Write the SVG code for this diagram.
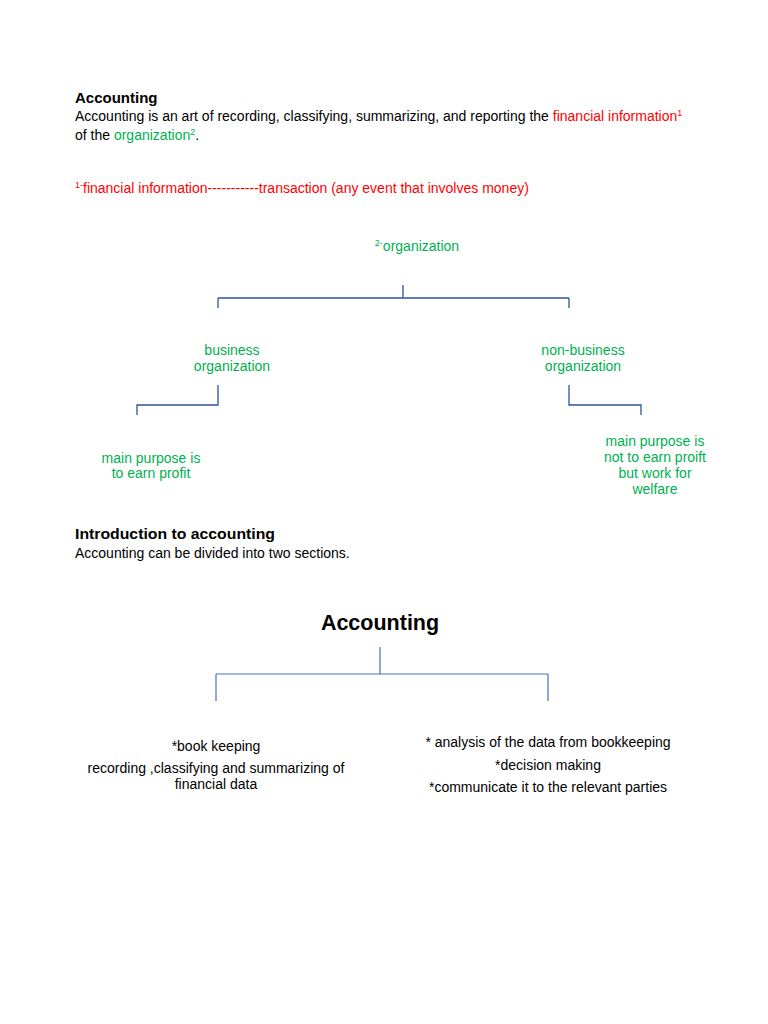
<svg xmlns="http://www.w3.org/2000/svg" width="768" height="1024" viewBox="0 0 768 1024">
<style>
text{font-family:"Liberation Sans",Arial,sans-serif;font-size:14px;fill:#000}
.b{font-weight:bold;font-size:15px}
.big{font-weight:bold;font-size:21.5px}
.r{fill:#FF0000}
.g{fill:#00B050}
.c{text-anchor:middle}
.sup{font-size:9px}
.ln{stroke:#2F52A0;stroke-width:1.3;fill:none}
.ln2{stroke:#4472C4;stroke-width:1.2;fill:none}
</style>
<rect width="768" height="1024" fill="#fff"/>
<g id="intro">
<text x="75" y="103" class="b">Accounting</text>
<text x="75" y="121">Accounting is an art of recording, classifying, summarizing, and reporting the <tspan class="r">financial information</tspan><tspan class="r sup" dy="-5">1</tspan></text>
<text x="75" y="140">of the <tspan class="g">organization</tspan><tspan class="g sup" dy="-5">2</tspan><tspan dy="5">.</tspan></text>
<text x="75" y="193" class="r"><tspan class="sup" dy="-5">1-</tspan><tspan dy="5">financial information-----------transaction (any event that involves money)</tspan></text>
</g>
<g id="connectors">
<path class="ln" d="M403 285V298M218 298H569M218 298V308M569 298V308"/>
<path class="ln" d="M218 385V405H137V415M569 385V405H641V415"/>
<path class="ln2" d="M380 647V674M216 674H548M216 674V701M548 674V701"/>
</g>
<g id="org"><text x="417" y="251" class="g c"><tspan class="sup" dy="-5">2-</tspan><tspan dy="5">organization</tspan></text></g>
<g id="business"><text x="232" y="355" class="g c">business</text><text x="232" y="371" class="g c">organization</text></g>
<g id="nonbusiness"><text x="583" y="355" class="g c">non-business</text><text x="583" y="371" class="g c">organization</text></g>
<g id="profit"><text x="151" y="463" class="g c">main purpose is</text><text x="151" y="478" class="g c">to earn profit</text></g>
<g id="welfare"><text x="655" y="446" class="g c">main purpose is</text><text x="655" y="462" class="g c">not to earn proift</text><text x="655" y="478" class="g c">but work for</text><text x="655" y="494" class="g c">welfare</text></g>
<g id="intro2">
<text x="75" y="539" class="b" textLength="200" lengthAdjust="spacingAndGlyphs">Introduction to accounting</text>
<text x="75" y="558">Accounting can be divided into two sections.</text>
</g>
<g id="accounting"><text x="380" y="630" class="c big">Accounting</text></g>
<g id="bookkeeping">
<text x="216" y="751" class="c">*book keeping</text>
<text x="216" y="773" class="c">recording ,classifying and summarizing of</text>
<text x="216" y="789" class="c">financial data</text>
</g>
<g id="analysis">
<text x="548" y="747" class="c">* analysis of the data from bookkeeping</text>
<text x="548" y="770" class="c">*decision making</text>
<text x="548" y="792" class="c">*communicate it to the relevant parties</text>
</g>
</svg>
